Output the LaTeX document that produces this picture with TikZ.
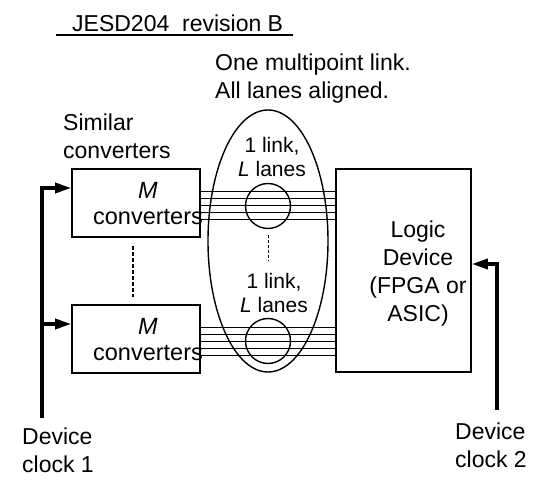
\documentclass[tikz,border=0pt]{standalone}
\usepackage{fontspec}
\setmainfont{Liberation Sans}
\usetikzlibrary{shapes.geometric,arrows.meta,calc}
\begin{document}
\begin{tikzpicture}[x=1pt,y=-1pt,
  txt/.style={inner sep=0pt, font=\fontsize{23}{28}\selectfont},
  boxtxt/.style={inner sep=0pt, font=\fontsize{23.5}{26}\selectfont},
  small/.style={inner sep=0pt, font=\fontsize{21}{24}\selectfont},
  blk/.style={draw, line width=1.6pt, inner sep=0pt},
  ring/.style={draw, circle, line width=1.4pt, minimum size=45pt, inner sep=0pt},
  lane/.style={line width=1.8pt},
  clk/.style={line width=3.3pt, -{Triangle[length=16pt,width=10pt]}},
]
\useasboundingbox (0,0) rectangle (542,489);
% title
\node[txt, anchor=base west] (title) at (72,32) {JESD204\ \ revision B};
\draw[line width=1.2pt] ($(title.base west)+(-16,3)$) coordinate (ul1) -- ($(title.base east)+(10,3)$) coordinate (ul2);
\node[txt, anchor=north west, align=left] (multi) at (215,54) {One multipoint link.\\All lanes aligned.};
\node[txt, anchor=north west, align=left] (similar) at (63,114) {Similar\\converters};
% converter boxes
\node[blk, minimum width=128pt, minimum height=68pt] (c1) at (136,203) {};
\node[blk, minimum width=128pt, minimum height=68pt] (c2) at (136,339) {};
\node[boxtxt, align=center] (c1t) at (148,204) {\textit{M}\\converters};
\node[boxtxt, align=center] (c2t) at (148,340) {\textit{M}\\converters};
% logic device
\node[blk, minimum width=135pt, minimum height=203pt] (logic) at (403.5,270.5) {};
\node[txt, align=center] (logict) at (418,273.5) {Logic\\Device\\(FPGA or\\ASIC)};
% lanes
\foreach \k in {0,...,4} {
  \coordinate (a\k) at ([yshift={(11.5-7*\k)*1pt}]c1.east);
  \draw[lane] (a\k) -- (a\k -| logic.west);
  \coordinate (b\k) at ([yshift={(11.5-7*\k)*1pt}]c2.east);
  \draw[lane] (b\k) -- (b\k -| logic.west);
}
% link ellipse and rings
\node[draw, ellipse, line width=1.4pt, minimum width=120pt, minimum height=262pt, inner sep=0pt] (link) at (268,241) {};
\node[ring] (ring1) at (268,206) {};
\node[ring] (ring2) at (268,341) {};
\node[small, anchor=north, align=center] (t1) at (272,137) {1 link,\\\textit{L} lanes};
\node[small, anchor=north, align=center] (t2) at (274,273) {1 link,\\\textit{L} lanes};
\coordinate (d1) at (268,235);
\coordinate (d2) at (268,261);
\draw[line width=1pt, dash pattern=on 3pt off 2pt] (d1) -- (d2);
\draw[line width=1.8pt, dash pattern=on 4pt off 2pt] ($(c1.south)+(-3.3,8)$) coordinate (e1) -- ($(c2.north)+(-3.3,-7)$) coordinate (e2);
% clocks
\coordinate (clk1) at (42,418);
\coordinate (c1in) at ([yshift=15pt]c1.west);
\coordinate (c2in) at ([yshift=15pt]c2.west);
\draw[clk] (clk1) |- (c1in);
\draw[clk] (clk1 |- c2in) -- (c2in);
\coordinate (clk2) at (497,410);
\coordinate (lin) at ([yshift=6.5pt]logic.east);
\draw[clk] (clk2) |- (lin);
\node[txt, anchor=north west, align=left] (dc1) at (22,428) {Device\\clock 1};
\node[txt, anchor=north west, align=left] (dc2) at (455,423) {Device\\clock 2};
\end{tikzpicture}
\end{document}
